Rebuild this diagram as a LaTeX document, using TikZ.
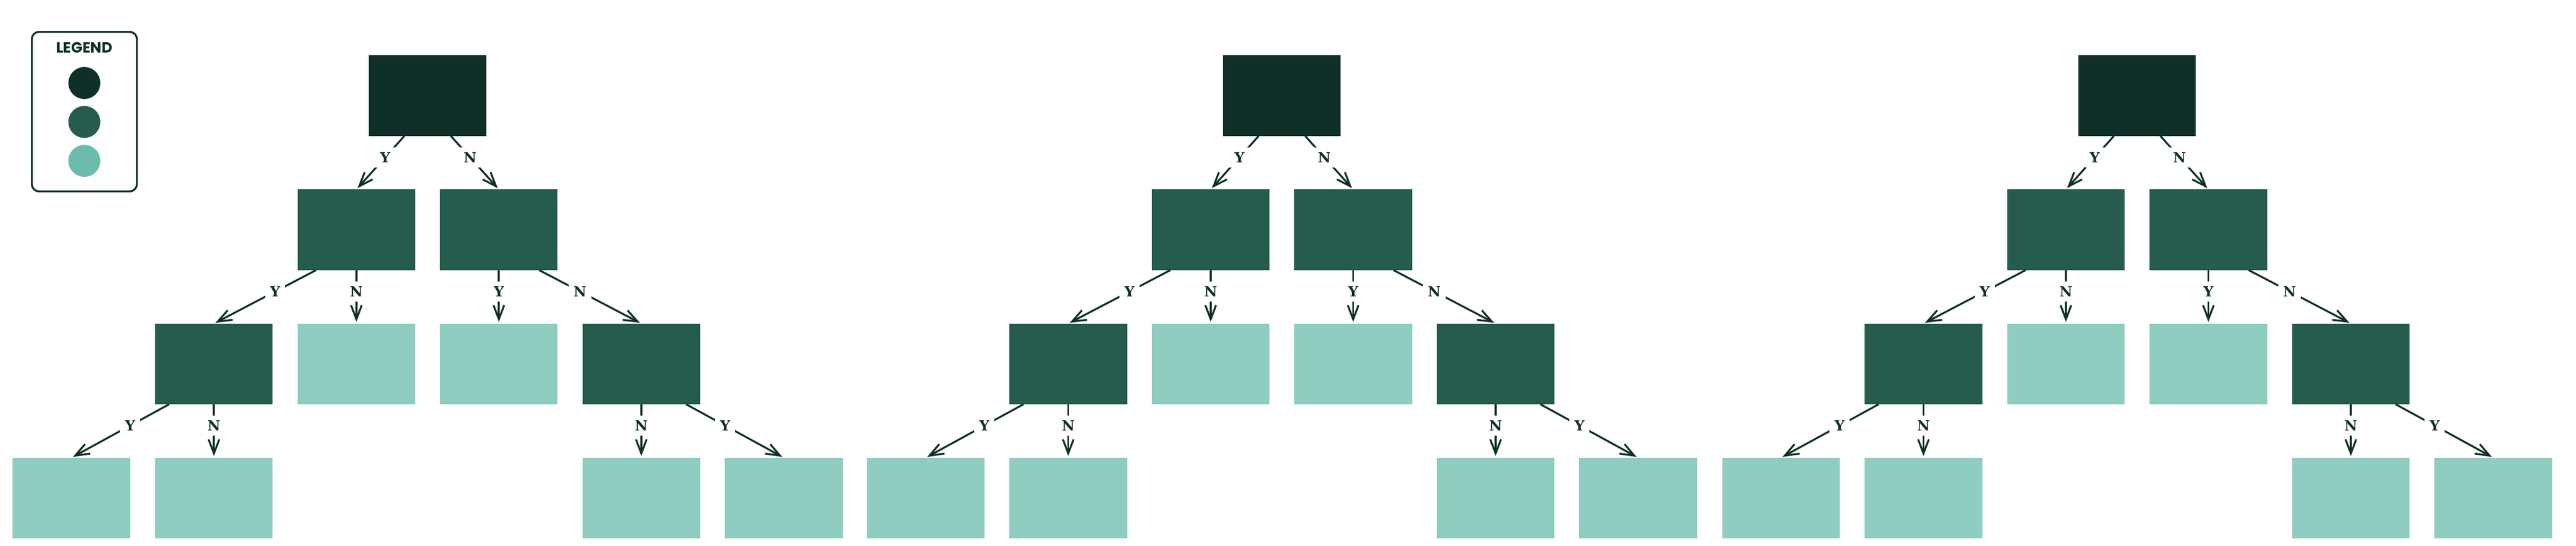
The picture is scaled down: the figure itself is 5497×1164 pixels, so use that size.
\documentclass[tikz,border=0pt]{standalone}
\usepackage{fontspec}
\setsansfont{Poppins}
\newfontfamily\slabfont{DejaVu Serif}
\usetikzlibrary{arrows.meta}
\definecolor{topgreen}{HTML}{0E3029}
\definecolor{midgreen}{HTML}{265C4E}
\definecolor{leafgreen}{HTML}{8FCDC0}
\definecolor{keygreen}{HTML}{6BBCAC}
\begin{document}
\begin{tikzpicture}[x=0.01cm,y=-0.01cm,
  box/.style={minimum width=2.51cm,minimum height=1.72cm,inner sep=0pt,outer sep=0pt},
  rootbox/.style={box,fill=topgreen},
  midbox/.style={box,fill=midgreen},
  leafbox/.style={box,fill=leafgreen},
  link/.style={draw=topgreen,line width=1.15pt,-{Straight Barb[length=8.5pt,width=6.5pt]},shorten >=1pt},
  yn/.style={fill=white,text=topgreen,inner sep=3pt,pos=.4,font=\slabfont\bfseries\fontsize{8.5}{10}\selectfont},
  dot/.style={circle,minimum size=0.68cm,inner sep=0pt}]
\useasboundingbox (0,0) rectangle (5497,1164);
% legend
\draw[topgreen,line width=1.15pt,rounded corners=0.15cm] (68,68) rectangle (292,408);
\node[text=topgreen,font=\sffamily\bfseries\fontsize{9}{10}\selectfont] (legend) at (180,102) {LEGEND};
\node[dot,fill=topgreen] (key1) at (180,177) {};
\node[dot,fill=midgreen] (key2) at (180,260) {};
\node[dot,fill=keygreen] (key3) at (180,343) {};
% three trees
\foreach \s [count=\t] in {0,1823,3648} {
\begin{scope}[shift={(\s,0)}]
\node[rootbox] (root\t) at (912.5,204) {};
\node[midbox] (a\t) at (760.5,490) {};
\node[midbox] (b\t) at (1064.5,490) {};
\node[midbox] (c\t) at (456.5,776) {};
\node[leafbox] (d\t) at (760.5,776) {};
\node[leafbox] (e\t) at (1064.5,776) {};
\node[midbox] (f\t) at (1368.5,776) {};
\node[leafbox] (g\t) at (152.5,1062) {};
\node[leafbox] (h\t) at (456.5,1062) {};
\node[leafbox] (i\t) at (1368.5,1062) {};
\node[leafbox] (j\t) at (1672.5,1062) {};
\draw[link] (root\t.-120) -- (a\t.north) node[yn] {Y};
\draw[link] (root\t.-60) -- (b\t.north) node[yn] {N};
\draw[link] (a\t.-135) -- (c\t.north) node[yn] {Y};
\draw[link] (a\t.south) -- (d\t.north) node[yn] {N};
\draw[link] (b\t.south) -- (e\t.north) node[yn] {Y};
\draw[link] (b\t.-45) -- (f\t.north) node[yn] {N};
\draw[link] (c\t.-138) -- (g\t.north) node[yn] {Y};
\draw[link] (c\t.south) -- (h\t.north) node[yn] {N};
\draw[link] (f\t.south) -- (i\t.north) node[yn] {N};
\draw[link] (f\t.-42) -- (j\t.north) node[yn] {Y};
\end{scope}
}
\end{tikzpicture}
\end{document}
